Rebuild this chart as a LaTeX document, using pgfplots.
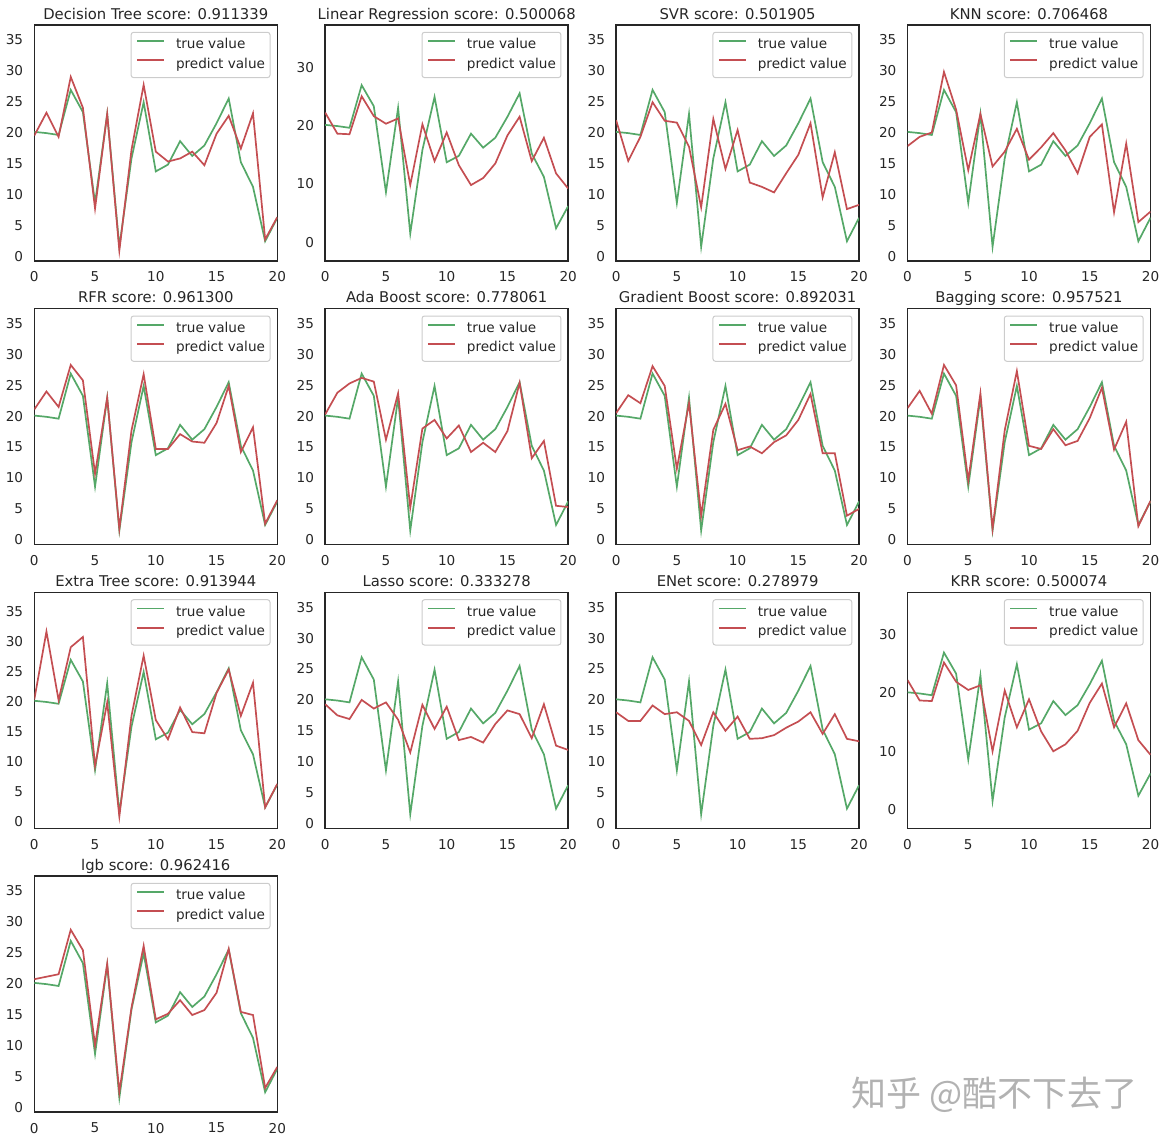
\documentclass[border=0pt]{standalone}
\usepackage{pgfplots}
\usepackage{pgfplotstable}
\pgfplotsset{compat=1.18}
\usepackage{fontspec}
\setmainfont{DejaVu Sans}
\newfontfamily\cjk{Noto Sans CJK SC}
\definecolor{tg}{HTML}{55A868}
\definecolor{pr}{HTML}{C44E52}
\definecolor{tx}{HTML}{262626}
\definecolor{lg}{HTML}{CCCCCC}

\pgfplotstableread{
x y
0 20.1
1 19.9
2 19.6
3 26.9
4 23.3
5 8.6
6 23.0
7 1.5
8 15.8
9 24.9
10 13.7
11 14.8
12 18.6
13 16.2
14 17.9
15 21.5
16 25.5
17 15.2
18 11.2
19 2.4
20 6.2
}\truedata

\pgfplotstableread{
x y
0 19.5
1 23.2
2 19.3
3 29.0
4 24.0
5 7.7
6 23.0
7 0.9
8 17.2
9 27.7
10 16.9
11 15.3
12 15.8
13 16.9
14 14.7
15 19.8
16 22.7
17 17.4
18 23.1
19 2.7
20 6.3
}\dtdata

\pgfplotstableread{
x y
0 22.2
1 18.6
2 18.5
3 25.0
4 21.6
5 20.3
6 21.2
7 9.8
8 20.2
9 13.9
10 18.8
11 13.2
12 9.8
13 11.0
14 13.5
15 18.3
16 21.5
17 13.9
18 17.9
19 11.8
20 9.2
}\lrdata

\pgfplotstableread{
x y
0 22.0
1 15.4
2 19.3
3 24.9
4 21.9
5 21.6
6 17.7
7 7.9
8 22.2
9 14.1
10 20.4
11 11.9
12 11.2
13 10.3
14 13.4
15 16.4
16 21.5
17 9.5
18 16.8
19 7.6
20 8.3
}\svrdata

\pgfplotstableread{
x y
0 17.8
1 19.3
2 20.0
3 29.8
4 23.7
5 13.9
6 23.0
7 14.5
8 16.9
9 20.6
10 15.6
11 17.6
12 19.9
13 17.1
14 13.4
15 19.3
16 21.3
17 7.1
18 18.2
19 5.5
20 7.2
}\knndata

\pgfplotstableread{
x y
0 21.1
1 24.0
2 21.5
3 28.3
4 25.8
5 10.7
6 23.0
7 1.8
8 17.7
9 26.8
10 14.7
11 14.7
12 17.1
13 15.9
14 15.7
15 18.9
16 24.9
17 14.2
18 18.2
19 2.6
20 6.4
}\rfrdata

\pgfplotstableread{
x y
0 20.3
1 23.8
2 25.3
3 26.2
4 25.6
5 16.2
6 23.7
7 5.2
8 18.0
9 19.4
10 16.4
11 18.5
12 14.2
13 15.7
14 14.2
15 17.6
16 25.4
17 13.2
18 16.0
19 5.5
20 5.3
}\adadata

\pgfplotstableread{
x y
0 20.5
1 23.4
2 22.1
3 28.1
4 24.9
5 11.5
6 22.1
7 3.9
8 17.8
9 22.0
10 14.5
11 15.1
12 14.0
13 15.8
14 16.9
15 19.4
16 23.6
17 14.0
18 14.0
19 3.9
20 5.0
}\gbdata

\pgfplotstableread{
x y
0 21.3
1 24.1
2 20.4
3 28.3
4 25.0
5 9.6
6 23.7
7 1.8
8 17.7
9 27.3
10 15.2
11 14.7
12 17.9
13 15.3
14 16.0
15 19.7
16 24.6
17 14.6
18 19.1
19 2.2
20 6.3
}\bagdata

\pgfplotstableread{
x y
0 20.3
1 31.6
2 20.2
3 29.0
4 30.7
5 9.3
6 19.8
7 0.9
8 17.6
9 27.6
10 16.9
11 13.7
12 19.0
13 14.9
14 14.7
15 21.4
16 25.3
17 17.6
18 23.1
19 2.4
20 6.3
}\etdata

\pgfplotstableread{
x y
0 19.3
1 17.5
2 16.9
3 20.0
4 18.6
5 19.6
6 16.8
7 11.5
8 19.2
9 15.3
10 18.9
11 13.5
12 14.0
13 13.1
14 16.1
15 18.3
16 17.7
17 13.8
18 19.3
19 12.6
20 11.9
}\lassodata

\pgfplotstableread{
x y
0 18.0
1 16.6
2 16.6
3 19.1
4 17.7
5 18.0
6 16.6
7 12.7
8 18.0
9 15.0
10 17.3
11 13.7
12 13.8
13 14.3
14 15.5
15 16.5
16 18.0
17 14.5
18 17.7
19 13.7
20 13.3
}\enetdata

\pgfplotstableread{
x y
0 22.2
1 18.7
2 18.6
3 25.2
4 21.9
5 20.5
6 21.3
7 10.0
8 20.4
9 14.1
10 18.9
11 13.4
12 10.0
13 11.2
14 13.5
15 18.3
16 21.6
17 14.1
18 18.2
19 11.9
20 9.4
}\krrdata

\pgfplotstableread{
x y
0 20.7
1 21.1
2 21.5
3 28.7
4 25.4
5 10.0
6 23.2
7 2.4
8 16.1
9 26.1
10 14.2
11 15.1
12 17.3
13 14.9
14 15.7
15 18.5
16 25.6
17 15.4
18 14.9
19 3.1
20 6.5
}\lgbdata

\pgfplotsset{
  panel/.style={
    scale only axis, width=243pt, height=236pt, anchor=south west,
    xmin=0, xmax=20, xtick={0,5,10,15,20},
    ymin=-0.8, ymax=37.4, ytick={0,5,...,35},
    axis line style={draw=tx, line width=1.5pt},
    major tick length=0pt, tick style={draw=none},
    ticklabel style={font=\fontsize{13.6}{16}\selectfont, text=tx},
    xticklabel style={inner sep=0pt, anchor=north, yshift=-10.7pt},
    yticklabel style={inner sep=0pt, anchor=east, xshift=-11pt},
    /pgf/number format/assume math mode=true,
    every axis title/.style={at={(0.5,1)}, anchor=base, yshift=6pt, inner sep=0pt,
      font=\fontsize{14.8}{17}\selectfont, text=tx},
    legend style={at={(1,1)}, anchor=north east, xshift=-6.8pt, yshift=-6.8pt,
      draw=lg, line width=1pt, rounded corners=2.5pt, fill=white,
      font=\fontsize{13.6}{16}\selectfont, text=tx,
      inner xsep=5pt, inner ysep=6.5pt, row sep=6.3pt,
      nodes={inner sep=0pt, text height=10pt, text depth=3pt},
      /tikz/every odd column/.append style={column sep=10.9pt}},
    legend cell align=left,
    legend image code/.code={\draw[#1, line width=1.8pt] (0pt,4.3pt) -- (27.2pt,4.3pt);},
  },
}

\newcommand\panel[5]{%
\begin{axis}[panel, at={(#1pt,-#2pt)}, title={#3}, #5]
\addplot[draw=tg, line width=1.7pt, no markers] table {\truedata}; \addlegendentry{true value}
\addplot[draw=pr, line width=1.7pt, no markers] table {#4}; \addlegendentry{predict value}
\end{axis}}

\begin{document}
\begin{tikzpicture}
\path (0pt,0pt) rectangle (1166pt,-1143pt);
\panel{34.3}{261}{Decision Tree score: 0.911339}{\dtdata}{}
\panel{325.2}{261}{Linear Regression score: 0.500068}{\lrdata}{ymin=-3.2, ymax=37.2, ytick={0,10,20,30}}
\panel{616.1}{261}{SVR score: 0.501905}{\svrdata}{}
\panel{907.5}{261}{KNN score: 0.706468}{\knndata}{}
\panel{34.3}{544.7}{RFR score: 0.961300}{\rfrdata}{}
\panel{325.2}{544.7}{Ada Boost score: 0.778061}{\adadata}{}
\panel{616.1}{544.7}{Gradient Boost score: 0.892031}{\gbdata}{}
\panel{907.5}{544.7}{Bagging score: 0.957521}{\bagdata}{}
\panel{34.3}{828.4}{Extra Tree score: 0.913944}{\etdata}{ymin=-1.1, ymax=38.1}
\panel{325.2}{828.4}{Lasso score: 0.333278}{\lassodata}{}
\panel{616.1}{828.4}{ENet score: 0.278979}{\enetdata}{}
\panel{907.5}{828.4}{KRR score: 0.500074}{\krrdata}{ymin=-3.2, ymax=37.2, ytick={0,10,20,30}}
\panel{34.3}{1112}{lgb score: 0.962416}{\lgbdata}{}
\node[anchor=base east, inner sep=0pt, text=black!30, font=\fontsize{35}{37}\selectfont\cjk] at (1138pt,-1106pt) {知乎 @酷不下去了};
\end{tikzpicture}
\end{document}
